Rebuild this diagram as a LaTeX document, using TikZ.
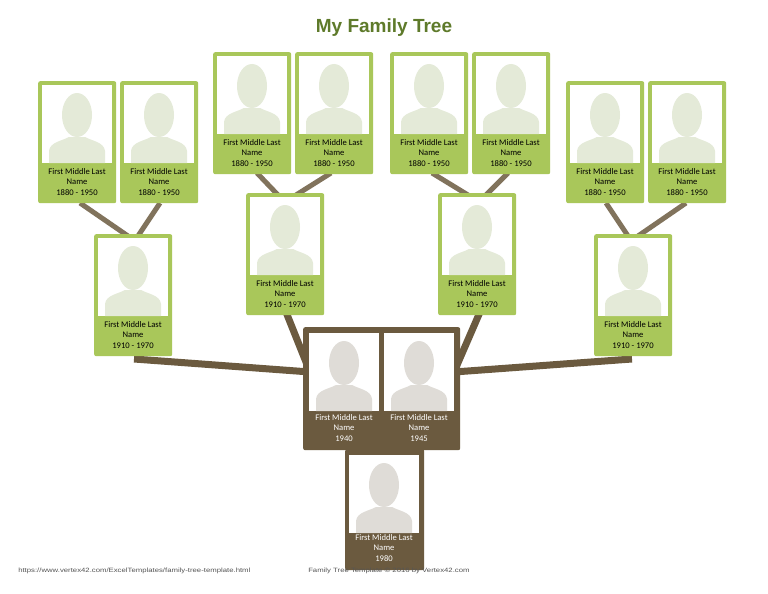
\documentclass[tikz,border=0pt]{standalone}
\usepackage{fontspec}
\setmainfont{Carlito}
\newfontfamily\titlefont{Liberation Sans}
\definecolor{cgreen}{HTML}{A9C75A}
\definecolor{cbrown}{HTML}{6B5A3F}
\definecolor{sgreen}{HTML}{E4EAD8}
\definecolor{sbrown}{HTML}{DFDCD7}
\definecolor{ctitle}{HTML}{5E7A2A}
\definecolor{cfoot}{HTML}{555555}
\tikzset{
 cardbox/.style={draw=none,fill=cgreen,rounded corners=2pt,anchor=north west,inner sep=0pt,minimum width=78pt,minimum height=122pt},
 branch/.style={draw=cbrown!85!white,line width=5pt},
 trunk/.style={draw=cbrown,line width=7pt},
 cardtext/.style={align=center,font=\fontsize{8.6}{10.2}\selectfont,inner sep=0pt},
 foot/.style={anchor=west,font=\titlefont\fontsize{6.2}{7}\selectfont,text=cfoot,inner sep=0pt,xscale=1.25},
}
\newcommand\photo[3]{%
 \fill[white] (#1,#2) rectangle ++(70,78);
 \fill[#3] (#1+35,#2+30) ellipse [x radius=15,y radius=22];
 \fill[#3] (#1+7,#2+78) -- (#1+7,#2+66) .. controls (#1+8,#2+57) and (#1+20,#2+56) .. (#1+27,#2+52)
   -- (#1+43,#2+52) .. controls (#1+50,#2+56) and (#1+62,#2+57) .. (#1+63,#2+66) -- (#1+63,#2+78) -- cycle;
}
\newcommand\gcard[4]{%
 \node[cardbox] (#1) at (#2,#3) {};
 \photo{#2+4}{#3+4}{sgreen}
 \node[cardtext] (#1t) at (#2+39,#3+101) {First Middle Last\\Name\\#4};
}
\begin{document}
\begin{tikzpicture}[x=1pt,y=-1pt]
\useasboundingbox (0,0) rectangle (768,594);
\fill[white] (0,0) rectangle (768,594);
\coordinate (p1) at (80,203); \coordinate (p2) at (160,203);
\coordinate (p3) at (257,173); \coordinate (p4) at (331,173);
\coordinate (p5) at (432,173); \coordinate (p6) at (508,173);
\coordinate (p7) at (606,203); \coordinate (p8) at (686,203);
\coordinate (g1) at (128,236); \coordinate (g1b) at (138,236);
\coordinate (g2) at (278,195); \coordinate (g2b) at (296,195);
\coordinate (g3) at (468,195); \coordinate (g3b) at (486,195);
\coordinate (g4) at (628,236); \coordinate (g4b) at (638,236);
\draw[branch] (p1) -- (g1); \draw[branch] (p2) -- (g1b);
\draw[branch] (p3) -- (g2); \draw[branch] (p4) -- (g2b);
\draw[branch] (p5) -- (g3); \draw[branch] (p6) -- (g3b);
\draw[branch] (p7) -- (g4); \draw[branch] (p8) -- (g4b);
\coordinate (t1) at (134,359); \coordinate (t2) at (286,312);
\coordinate (t3) at (480,312); \coordinate (t4) at (632,359);
\coordinate (m1) at (310,372); \coordinate (m2) at (454,372);
\draw[trunk] (t1) -- (m1); \draw[trunk] (t2) -- (m1);
\draw[trunk] (t4) -- (m2); \draw[trunk] (t3) -- (m2);
\node[font=\titlefont\bfseries\fontsize{19}{22}\selectfont,text=ctitle] (title) at (384,28) {My Family Tree};
\gcard{a1}{38}{81}{1880 - 1950}
\gcard{a2}{120}{81}{1880 - 1950}
\gcard{a3}{213}{52}{1880 - 1950}
\gcard{a4}{295}{52}{1880 - 1950}
\gcard{a5}{390}{52}{1880 - 1950}
\gcard{a6}{472}{52}{1880 - 1950}
\gcard{a7}{566}{81}{1880 - 1950}
\gcard{a8}{648}{81}{1880 - 1950}
\gcard{b1}{94}{234}{1910 - 1970}
\gcard{b2}{246}{193}{1910 - 1970}
\gcard{b3}{438}{193}{1910 - 1970}
\gcard{b4}{594}{234}{1910 - 1970}
\node[fill=cbrown,anchor=north west,inner sep=0pt,minimum width=157pt,minimum height=123pt,rounded corners=2pt] (par) at (303,327) {};
\photo{309}{333}{sbrown}
\photo{384}{333}{sbrown}
\node[cardtext,text=white] (pa) at (344,428) {First Middle Last\\Name\\1940};
\node[cardtext,text=white] (pb) at (419,428) {First Middle Last\\Name\\1945};
\node[fill=cbrown,anchor=north west,inner sep=0pt,minimum width=79pt,minimum height=121pt,rounded corners=2pt] (ch) at (345,449) {};
\photo{349}{455}{sbrown}
\node[cardtext,text=white] (cht) at (384,548) {First Middle Last\\Name\\1980};
\node[foot] (f1) at (18,571) {https://www.vertex42.com/ExcelTemplates/family-tree-template.html};
\node[foot] (f2) at (308,571) {Family Tree Template © 2016 by Vertex42.com};
\end{tikzpicture}
\end{document}
